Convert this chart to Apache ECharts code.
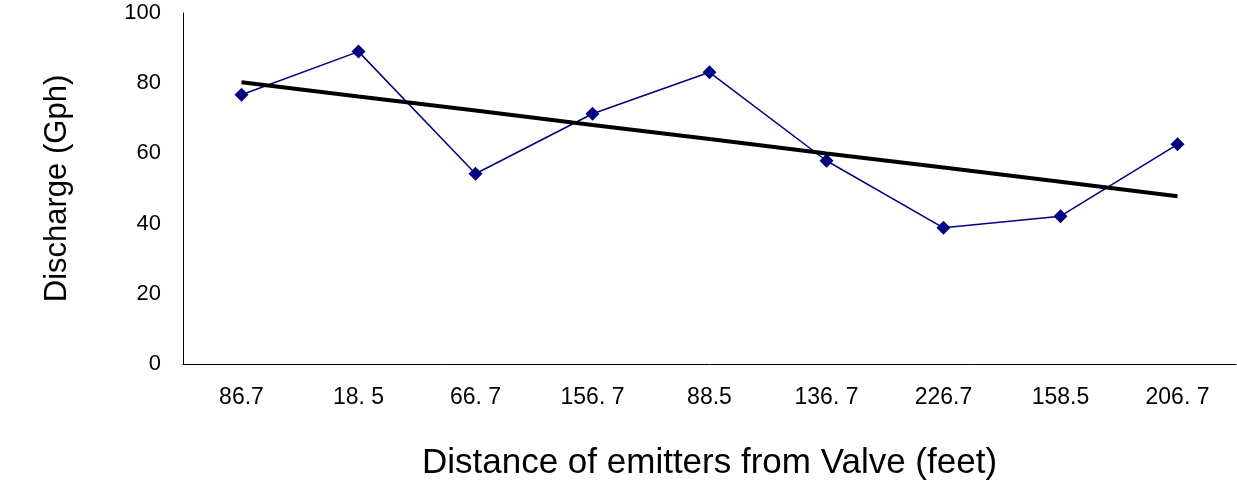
<!DOCTYPE html>
<html><head><meta charset="utf-8">
<script src="https://cdn.jsdelivr.net/npm/echarts@6/dist/echarts.min.js"></script>
<style>html,body{margin:0;background:#fff}#c{width:1237px;height:486px}</style>
</head><body><div id="c"></div>
<script>
const categories = ["86.7","18. 5","66. 7","156. 7","88.5","136. 7","226.7","158.5","206. 7"];
const discharge = [76.7, 89, 54.2, 71.3, 83.1, 57.9, 38.8, 42.1, 62.6];
const trend = [80.3, 76.2, 72.2, 68.1, 64.1, 60.0, 56.0, 51.9, 47.8];
const yTicks = [0, 20, 40, 60, 80, 100];
const chart = echarts.init(document.getElementById('c'));
chart.setOption({
  animation:false,
  grid:{left:183,right:1,top:13,bottom:117},
  xAxis:{type:'category',data:categories,boundaryGap:true,
    axisLine:{lineStyle:{color:'#000',width:1}},axisTick:{show:false},
    axisLabel:{color:'#000',fontSize:23,fontFamily:'Liberation Sans Narrow, Arial',margin:22},
    name:'Distance of emitters from Valve (feet)',nameLocation:'middle',nameGap:82,
    nameTextStyle:{color:'#000',fontSize:35,fontFamily:'Liberation Sans, Arial'}},
  yAxis:{type:'value',min:0,max:100,interval:20,
    axisLine:{show:true,lineStyle:{color:'#000'}},axisTick:{show:false},
    splitLine:{show:false},
    axisLabel:{color:'#000',fontSize:22,fontFamily:'Liberation Sans, Arial',margin:22,
      formatter:v=>yTicks.includes(v)?String(v):''},
    name:'Discharge (Gph)',nameLocation:'middle',nameGap:110,nameRotate:90,
    nameTextStyle:{color:'#000',fontSize:31,fontFamily:'Liberation Sans, Arial'}},
  series:[
    {type:'line',data:discharge,symbol:'diamond',symbolSize:14,
      lineStyle:{color:'#000080',width:1.5},itemStyle:{color:'#000080'},z:2},
    {type:'line',data:trend,symbol:'none',lineStyle:{color:'#000',width:4},z:3}
  ]
});
</script></body></html>
